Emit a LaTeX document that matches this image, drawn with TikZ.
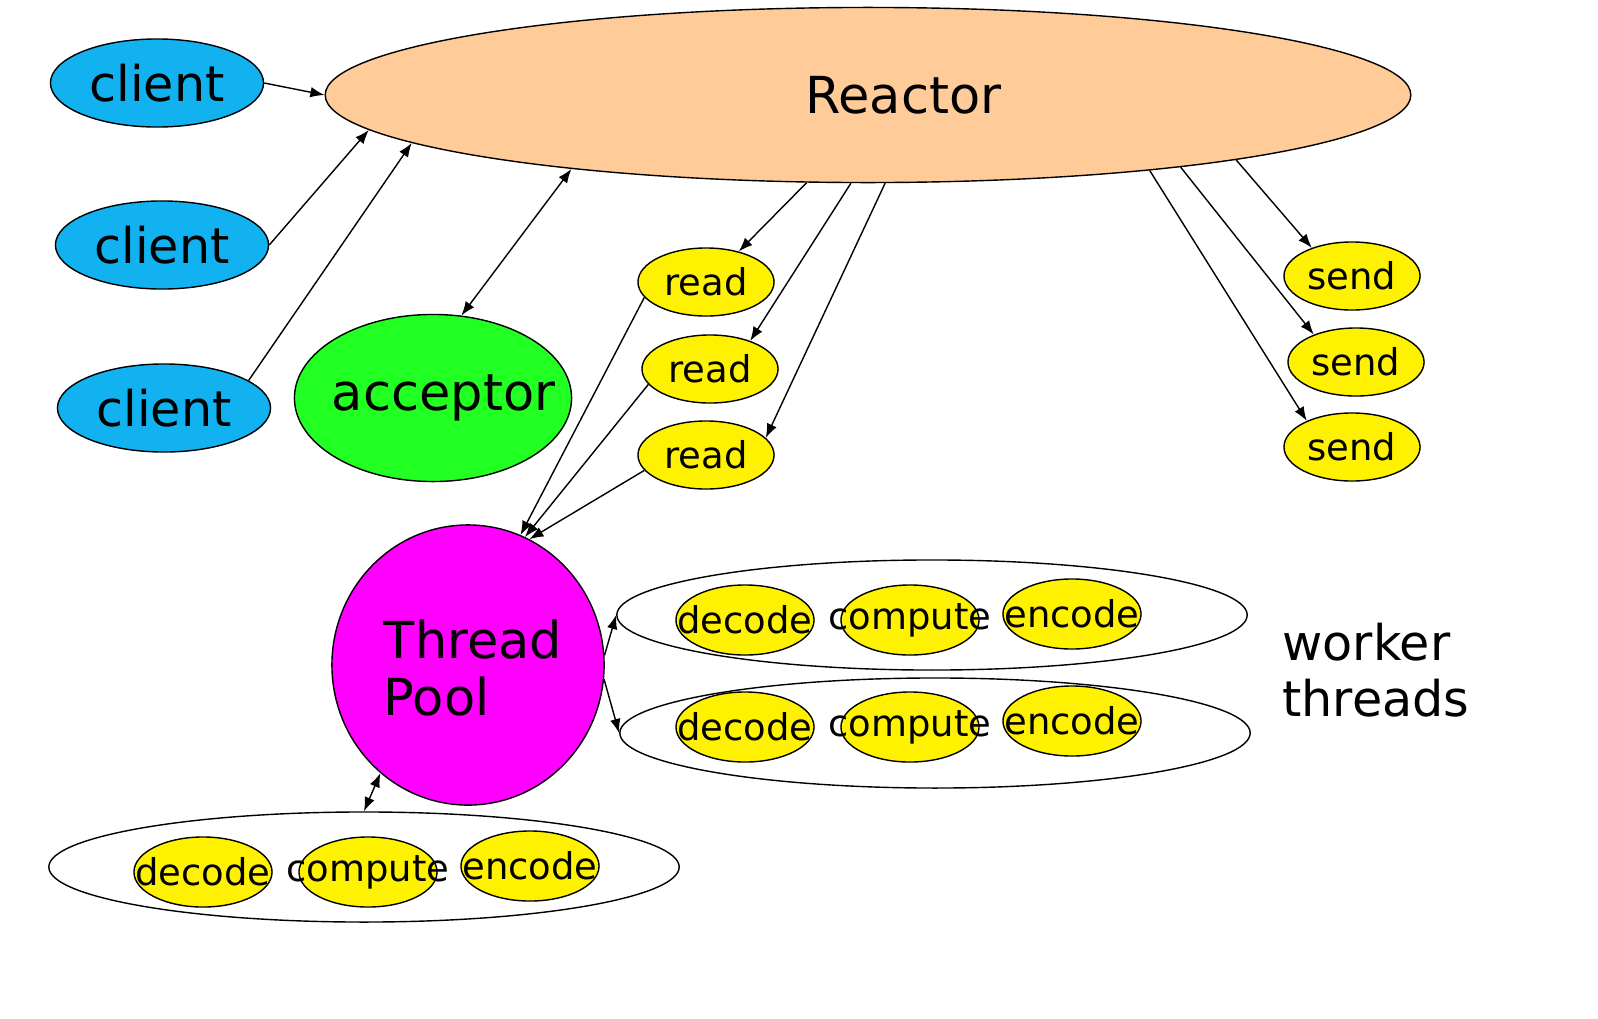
\documentclass[tikz,border=0pt]{standalone}
\usepackage{fontspec}
\setmainfont{DejaVu Sans}
\usetikzlibrary{shapes.geometric,arrows.meta}
\definecolor{peach}{HTML}{FFCC99}
\definecolor{sky}{HTML}{12B2F0}
\definecolor{lime}{HTML}{22FF22}
\definecolor{pink}{HTML}{FF00FF}
\begin{document}
\begin{tikzpicture}[x=0.01cm,y=-0.01cm,
	blob/.style={ellipse,draw,thin,inner xsep=-1.5cm,inner ysep=-0.5cm},
	cli/.style={blob,fill=sky,minimum width=2.13cm,minimum height=0.88cm,font=\fontsize{14}{17}\selectfont},
	small/.style={blob,fill=yellow,minimum width=1.36cm,minimum height=0.68cm,font=\fontsize{10.5}{13}\selectfont},
	task/.style={blob,fill=yellow,minimum width=1.38cm,minimum height=0.70cm,font=\fontsize{10.5}{13}\selectfont},
	grp/.style={blob,minimum width=6.3cm,minimum height=1.1cm},
	arr/.style={thin,-{Latex[length=4pt,width=3pt]}},
	both/.style={thin,{Latex[length=4pt,width=3pt]}-{Latex[length=4pt,width=3pt]}}]
				\useasboundingbox (0,0) rectangle (1598,1018);
				
				\node[blob,fill=peach,minimum width=10.85cm,minimum height=1.75cm,font=\fontsize{14.5}{17}\selectfont] (reactor) at (868,95) {\hspace*{20pt}Reactor};
				\node[cli] (c1) at (157,83) {client};
				\node[cli] (c2) at (162,245) {client};
				\node[cli] (c3) at (164,408) {client};
				\node[blob,fill=lime,minimum width=2.77cm,minimum height=1.67cm,font=\fontsize{14.5}{17}\selectfont] (acc) at (433,398) {\hspace*{6pt}acceptor};
				
				\node[small] (r1) at (706,282) {read};
				\node[small] (r2) at (710,369) {read};
				\node[small] (r3) at (706,455) {read};
				\node[small] (s1) at (1352,276) {send};
				\node[small] (s2) at (1356,362) {send};
				\node[small] (s3) at (1352,447) {send};
				
				\node[blob,fill=pink,minimum width=2.72cm,minimum height=2.8cm] (tp) at (468,665) {};
				\node[align=left,font=\fontsize{14.5}{16}\selectfont] (tpl) at (473,668) {Thread\\Pool};
				
				\node[grp] (w1) at (932,615) {};
				\node[grp] (w2) at (935,733) {};
				\node[grp] (w3) at (364,867) {};
				\foreach \n/\x/\y in {a/745/620,b/745/727,c/203/872}{
					\node[task] (dec\n) at (\x,\y) {decode};
					\node[task] (com\n) at (\x+165,\y) {compute};
					\node[task] (enc\n) at (\x+327,\y-6) {encode};}
				\node[align=left,anchor=west,font=\fontsize{14}{16}\selectfont] (wt) at (1270,670) {worker\\threads};
				
				% connectors
				\draw[arr] (c1.east) -- (reactor.west);
				\draw[arr] (c2.east) -- (reactor.184.4);
				\draw[arr] (c3.18) -- (reactor.186.7);
				\draw[both] (acc.71) -- (reactor.194.6);
				\draw[arr] (reactor.235.7) -- (r1.43);
				\draw[arr] (reactor.259.8) -- (r2.35);
				\draw[arr] (reactor.281.5) -- (r3.16);
				\foreach \r/\a in {r1/68,r2/66,r3/64}{
					\draw[arr] (\r.194) -- (tp.\a);}
				\draw[arr] (reactor.350.5) -- (s1.145);
				\draw[arr] (reactor.347.6) -- (s2.147.5);
				\draw[arr] (reactor.345.8) -- (s3.150);
				\draw[arr] (tp.4) -- (w1.west);
				\draw[arr] (tp.-6) -- (w2.west);
				\draw[both] (tp.231) -- (w3.90);
			\end{tikzpicture}
\end{document}
